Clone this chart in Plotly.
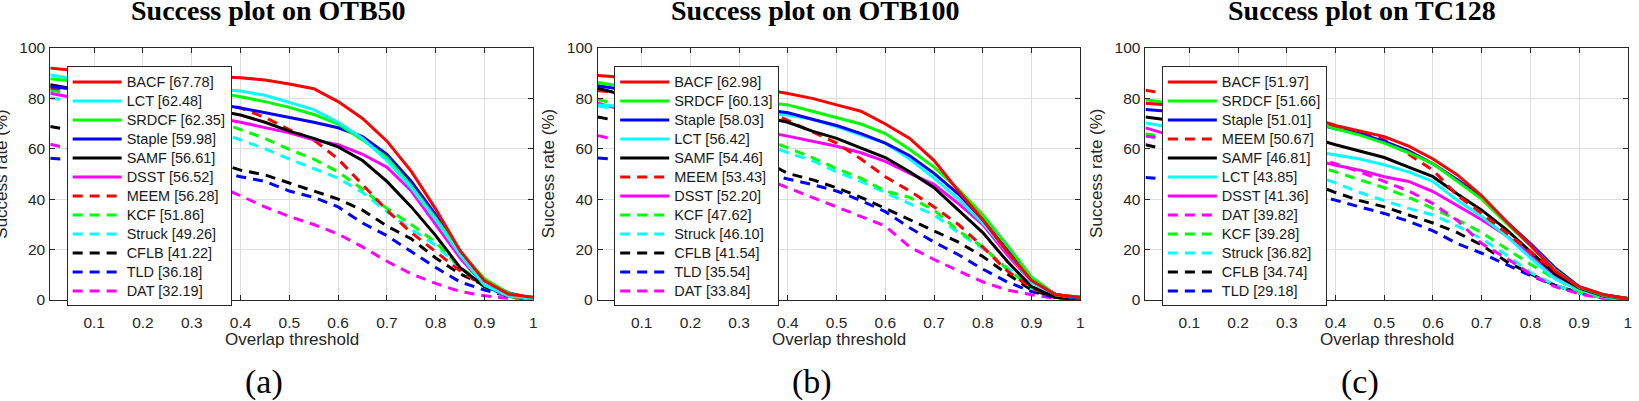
import plotly.graph_objects as go

# ---------------- data ----------------
THRESHOLDS = [0.01, 0.05, 0.10, 0.15, 0.20, 0.25, 0.30, 0.35, 0.40, 0.45, 0.50,
              0.55, 0.60, 0.65, 0.70, 0.75, 0.80, 0.85, 0.90, 0.95, 1.00]

X_TICKS = [0.1, 0.2, 0.3, 0.4, 0.5, 0.6, 0.7, 0.8, 0.9, 1.0]
X_TICK_TEXT = ["0.1", "0.2", "0.3", "0.4", "0.5", "0.6", "0.7", "0.8", "0.9", "1"]
Y_TICKS = [0, 20, 40, 60, 80, 100]
Y_TICK_TEXT = ["0", "20", "40", "60", "80", "100"]

# OTB50
OTB50_ORDER = ["BACF", "LCT", "SRDCF", "Staple", "SAMF", "DSST", "MEEM", "KCF", "Struck", "CFLB", "TLD", "DAT"]
OTB50_SCORES = [67.78, 62.48, 62.35, 59.98, 56.61, 56.52, 56.28, 51.86, 49.26, 41.22, 36.18, 32.19]
OTB50_BACF = [92.0, 91.3, 90.8, 90.3, 89.9, 89.5, 89.1, 88.8, 88.2, 87.3, 85.7, 83.8, 78.7, 72.0, 63.0, 51.0, 36.0, 19.5, 7.5, 2.2, 1.0]
OTB50_LCT = [89.3, 88.0, 87.0, 86.3, 85.6, 84.9, 84.3, 83.7, 82.9, 81.2, 78.5, 75.5, 70.5, 64.1, 55.3, 44.5, 31.8, 17.9, 5.8, 1.5, 0.5]
OTB50_SRDCF = [87.8, 87.0, 86.0, 85.2, 84.5, 83.8, 83.0, 82.3, 80.6, 78.7, 76.4, 73.6, 69.8, 63.5, 56.5, 45.1, 32.4, 19.1, 8.4, 2.5, 0.5]
OTB50_STAPLE = [84.7, 83.8, 82.5, 81.5, 80.5, 79.5, 78.6, 77.8, 76.2, 74.3, 72.6, 70.5, 68.3, 64.8, 57.8, 47.0, 33.7, 19.1, 7.7, 2.7, 0.5]
OTB50_SAMF = [85.4, 84.0, 82.0, 80.5, 79.0, 77.6, 76.3, 75.2, 73.4, 70.5, 67.0, 64.1, 60.7, 55.3, 47.0, 36.9, 25.5, 12.8, 5.2, 2.0, 0.5]
OTB50_DSST = [82.0, 80.5, 79.0, 77.5, 76.2, 74.9, 73.6, 72.3, 70.5, 68.3, 66.3, 63.5, 61.6, 57.8, 52.7, 43.2, 29.9, 16.6, 5.8, 1.4, 1.0]
OTB50_MEEM = [84.0, 83.5, 83.0, 82.3, 81.5, 80.5, 79.5, 78.3, 76.2, 72.4, 67.6, 63.5, 55.9, 45.8, 35.6, 26.7, 19.1, 11.5, 5.2, 1.4, 0.0]
OTB50_KCF = [83.2, 82.0, 80.5, 78.8, 77.0, 75.2, 73.3, 71.3, 67.6, 64.1, 59.7, 55.9, 50.8, 43.9, 36.3, 29.9, 22.9, 12.8, 6.5, 1.5, 0.0]
OTB50_STRUCK = [80.2, 79.0, 77.3, 75.5, 73.5, 71.4, 69.2, 67.0, 63.5, 60.0, 55.9, 52.1, 48.3, 42.6, 35.0, 28.0, 21.7, 12.8, 5.2, 1.2, 0.0]
OTB50_CFLB = [68.8, 67.5, 65.5, 63.5, 61.3, 59.0, 56.8, 54.5, 51.5, 49.6, 46.4, 43.2, 40.0, 35.6, 29.3, 24.2, 16.6, 10.3, 5.8, 2.0, 0.5]
OTB50_TLD = [56.2, 55.8, 55.2, 54.5, 53.7, 52.8, 51.8, 50.8, 48.9, 47.0, 43.2, 40.7, 36.9, 30.5, 25.5, 19.1, 12.8, 7.1, 3.9, 1.4, 0.0]
OTB50_DAT = [61.8, 60.0, 57.8, 55.5, 53.0, 50.5, 48.0, 45.5, 41.3, 36.9, 33.1, 29.9, 26.1, 21.0, 15.3, 10.3, 6.5, 3.3, 1.6, 0.5, 0.0]

# OTB100
OTB100_ORDER = ["BACF", "SRDCF", "Staple", "LCT", "SAMF", "MEEM", "DSST", "KCF", "Struck", "CFLB", "TLD", "DAT"]
OTB100_SCORES = [62.98, 60.13, 58.03, 56.42, 54.46, 53.43, 52.20, 47.62, 46.10, 41.54, 35.54, 33.84]
OTB100_BACF = [89.1, 88.5, 87.8, 87.2, 86.5, 85.6, 84.7, 83.6, 81.9, 80.0, 77.4, 74.9, 69.8, 64.1, 55.3, 43.2, 31.8, 19.1, 7.7, 2.0, 1.0]
OTB100_SRDCF = [86.3, 85.0, 83.8, 82.6, 81.6, 80.6, 79.6, 78.6, 77.4, 74.9, 72.4, 69.8, 66.0, 59.7, 52.7, 43.9, 33.7, 21.7, 9.0, 2.0, 1.0]
OTB100_STAPLE = [85.0, 83.8, 82.2, 80.8, 79.5, 78.2, 77.0, 75.8, 74.3, 71.7, 69.2, 66.0, 62.2, 57.2, 50.2, 42.0, 31.8, 19.8, 7.7, 2.2, 0.5]
OTB100_LCT = [77.4, 77.0, 76.5, 76.0, 75.5, 75.0, 74.5, 74.0, 73.4, 71.7, 68.8, 65.4, 62.2, 55.9, 48.3, 40.0, 30.5, 19.1, 7.1, 2.0, 0.5]
OTB100_SAMF = [84.0, 82.0, 80.0, 78.3, 76.8, 75.3, 73.9, 72.6, 70.5, 67.0, 64.1, 60.3, 56.5, 50.8, 44.5, 35.6, 26.7, 15.3, 5.2, 1.0, 0.0]
OTB100_MEEM = [83.0, 82.5, 81.8, 81.0, 80.0, 78.8, 77.5, 75.8, 71.1, 66.7, 62.2, 55.9, 48.9, 43.2, 36.9, 29.9, 21.0, 11.5, 4.6, 1.4, 0.0]
OTB100_DSST = [78.1, 76.0, 74.0, 72.3, 70.8, 69.4, 68.0, 66.7, 65.0, 62.9, 61.0, 58.4, 55.0, 50.2, 45.8, 38.2, 29.9, 17.9, 7.1, 2.0, 1.0]
OTB100_KCF = [79.4, 78.0, 76.0, 73.8, 71.6, 69.2, 66.8, 64.3, 60.3, 56.5, 52.1, 48.3, 43.2, 40.7, 35.6, 27.4, 21.0, 12.2, 5.2, 1.5, 0.0]
OTB100_STRUCK = [77.0, 75.8, 74.0, 72.0, 70.0, 67.8, 65.5, 62.3, 58.4, 55.3, 50.8, 47.0, 42.6, 38.2, 33.7, 26.7, 20.4, 12.8, 4.6, 1.5, 0.0]
OTB100_CFLB = [72.6, 71.2, 69.2, 67.0, 64.6, 62.0, 59.3, 55.3, 50.2, 47.7, 44.5, 40.7, 36.3, 31.8, 27.4, 22.9, 17.2, 10.3, 3.9, 1.0, 0.0]
OTB100_TLD = [56.3, 55.8, 55.0, 54.2, 53.3, 52.3, 51.2, 50.0, 48.0, 45.8, 43.2, 39.4, 35.0, 28.6, 22.9, 17.9, 12.2, 7.1, 3.3, 0.8, 0.0]
OTB100_DAT = [65.2, 63.5, 61.5, 59.4, 57.2, 54.6, 51.4, 48.3, 44.5, 40.7, 36.9, 33.1, 29.3, 21.0, 16.0, 11.5, 7.1, 3.9, 2.0, 0.5, 0.0]

# TC128
TC128_ORDER = ["BACF", "SRDCF", "Staple", "MEEM", "SAMF", "LCT", "DSST", "DAT", "KCF", "Struck", "CFLB", "TLD"]
TC128_SCORES = [51.97, 51.66, 51.01, 50.67, 46.81, 43.85, 41.36, 39.82, 39.28, 36.82, 34.74, 29.18]
TC128_BACF = [78.1, 77.5, 77.0, 76.2, 75.4, 74.5, 73.5, 72.3, 69.2, 67.0, 64.8, 61.0, 55.9, 49.6, 41.3, 31.2, 21.7, 11.5, 5.2, 2.0, 0.5]
TC128_SRDCF = [79.4, 78.3, 77.0, 75.8, 74.6, 73.4, 72.2, 71.0, 67.9, 65.4, 62.2, 58.4, 54.0, 47.0, 40.0, 30.5, 21.5, 12.0, 5.0, 1.8, 0.5]
TC128_STAPLE = [75.6, 75.0, 74.4, 73.7, 73.0, 72.2, 71.4, 70.5, 67.9, 66.0, 62.9, 59.1, 54.0, 47.7, 40.7, 31.2, 22.3, 12.8, 5.2, 2.0, 0.5]
TC128_MEEM = [83.2, 82.0, 80.5, 79.0, 77.5, 75.8, 74.0, 72.0, 68.8, 66.7, 63.5, 57.8, 51.5, 41.5, 34.3, 26.7, 19.1, 11.5, 5.2, 1.5, 0.0]
TC128_SAMF = [72.6, 71.5, 70.3, 69.2, 68.0, 66.8, 65.6, 64.4, 61.6, 59.1, 56.5, 52.7, 48.9, 42.0, 35.6, 28.0, 19.1, 10.3, 4.6, 1.5, 0.5]
TC128_LCT = [70.2, 68.8, 67.2, 65.6, 64.0, 62.4, 60.8, 59.2, 57.8, 55.9, 53.6, 50.8, 47.0, 39.5, 33.1, 25.5, 16.6, 8.4, 3.9, 1.2, 0.0]
TC128_DSST = [68.3, 66.0, 64.0, 62.0, 60.2, 58.6, 57.2, 55.9, 53.4, 51.5, 48.9, 47.0, 43.0, 37.5, 31.8, 25.5, 17.9, 9.6, 3.9, 2.0, 0.5]
TC128_DAT = [65.0, 64.0, 62.8, 61.6, 60.4, 59.2, 58.0, 57.2, 54.0, 50.8, 47.0, 43.2, 38.2, 31.5, 22.3, 16.6, 10.3, 5.2, 2.4, 0.5, 0.0]
TC128_KCF = [66.0, 64.5, 62.8, 61.0, 59.2, 57.4, 55.6, 53.8, 50.8, 47.7, 44.5, 40.7, 36.3, 31.8, 26.7, 20.4, 14.1, 8.4, 3.3, 1.0, 0.0]
TC128_STRUCK = [65.2, 63.2, 61.0, 58.8, 56.6, 54.4, 52.2, 50.0, 46.4, 42.6, 39.4, 36.3, 33.7, 29.3, 24.2, 17.9, 10.9, 5.8, 2.7, 0.8, 0.0]
TC128_CFLB = [61.6, 59.8, 57.6, 55.4, 53.2, 51.0, 48.8, 46.3, 42.6, 39.4, 36.9, 33.7, 30.5, 26.7, 21.7, 15.3, 10.3, 5.8, 2.7, 0.8, 0.0]
TC128_TLD = [48.6, 47.8, 47.0, 46.1, 45.2, 44.3, 43.3, 42.2, 39.4, 36.9, 34.3, 31.2, 27.4, 22.3, 18.5, 14.1, 9.6, 5.8, 2.7, 0.8, 0.0]

TITLES = ["Success plot on OTB50", "Success plot on OTB100", "Success plot on TC128"]
SUBLABELS = ["(a)", "(b)", "(c)"]

# ---------------- assemble ----------------
OTB50 = {"BACF": OTB50_BACF, "LCT": OTB50_LCT, "SRDCF": OTB50_SRDCF, "Staple": OTB50_STAPLE,
         "SAMF": OTB50_SAMF, "DSST": OTB50_DSST, "MEEM": OTB50_MEEM, "KCF": OTB50_KCF,
         "Struck": OTB50_STRUCK, "CFLB": OTB50_CFLB, "TLD": OTB50_TLD, "DAT": OTB50_DAT}
OTB100 = {"BACF": OTB100_BACF, "SRDCF": OTB100_SRDCF, "Staple": OTB100_STAPLE, "LCT": OTB100_LCT,
          "SAMF": OTB100_SAMF, "MEEM": OTB100_MEEM, "DSST": OTB100_DSST, "KCF": OTB100_KCF,
          "Struck": OTB100_STRUCK, "CFLB": OTB100_CFLB, "TLD": OTB100_TLD, "DAT": OTB100_DAT}
TC128 = {"BACF": TC128_BACF, "SRDCF": TC128_SRDCF, "Staple": TC128_STAPLE, "MEEM": TC128_MEEM,
         "SAMF": TC128_SAMF, "LCT": TC128_LCT, "DSST": TC128_DSST, "DAT": TC128_DAT,
         "KCF": TC128_KCF, "Struck": TC128_STRUCK, "CFLB": TC128_CFLB, "TLD": TC128_TLD}

STYLE = {
    "BACF": ("#ff0000", "solid"), "LCT": ("#00ffff", "solid"), "SRDCF": ("#00ff00", "solid"),
    "Staple": ("#0000ff", "solid"), "SAMF": ("#000000", "solid"), "DSST": ("#ff00ff", "solid"),
    "MEEM": ("#ff0000", "10px,7px"), "KCF": ("#00ff00", "10px,7px"), "Struck": ("#00ffff", "10px,7px"),
    "CFLB": ("#000000", "10px,7px"), "TLD": ("#0000ff", "10px,7px"), "DAT": ("#ff00ff", "10px,7px"),
}

W, H = 1639, 401
AX_GRAY = "#262626"
SANS = "Liberation Sans"
SERIF = "Liberation Serif"

# plot-area pixel geometry
PLOT_X = [(50.4, 534.6), (599.3, 1082.9), (1148.3, 1631.9)]
PLOT_TOP, PLOT_BOTTOM = 40.7, 303.7
LEGEND_LEFT = [66.8, 615.7, 1164.7]
LEGEND_TOP = 60.0
TITLE_CX = [269.0, 817.0, 1365.0]
SUB_CX = [265.0, 814.0, 1363.0]

panels = [(OTB50_ORDER, OTB50_SCORES, OTB50), (OTB100_ORDER, OTB100_SCORES, OTB100), (TC128_ORDER, TC128_SCORES, TC128)]

fig = go.Figure()
layout = dict(
    width=W, height=H, autosize=False,
    margin=dict(l=0, r=0, t=0, b=0),
    paper_bgcolor="white", plot_bgcolor="white",
    showlegend=True,
    annotations=[],
)

ydom = [1 - PLOT_BOTTOM / H, 1 - PLOT_TOP / H]

for i, (order, scores, data) in enumerate(panels):
    sfx = "" if i == 0 else str(i + 1)
    xa, ya = "x" + sfx, "y" + sfx
    leg = "legend" + sfx
    # add in reverse so the best tracker is drawn on top; legend reversed back
    for name, score in reversed(list(zip(order, scores))):
        color, dash = STYLE[name]
        fig.add_trace(go.Scatter(
            x=THRESHOLDS, y=data[name], mode="lines",
            line=dict(color=color, width=3, dash=dash),
            name='<span style="font-size:14.5px">%s [%.2f]</span>' % (name, score),
            xaxis=xa, yaxis=ya, legend=leg, hoverinfo="skip",
        ))
    x0, x1 = PLOT_X[i]
    layout["xaxis" + sfx] = dict(
        domain=[x0 / W, x1 / W], anchor=ya, range=[0.01, 1.0],
        tickvals=X_TICKS, ticktext=X_TICK_TEXT,
        ticks="inside", ticklen=5, tickcolor=AX_GRAY, tickwidth=1,
        showline=True, linecolor=AX_GRAY, linewidth=1, mirror="ticks",
        showgrid=True, gridcolor="#dedede", gridwidth=1, zeroline=False,
        tickfont=dict(family=SANS, size=15.5, color=AX_GRAY),
        ticklabelstandoff=9, ticklabeloverflow="allow",
    )
    layout["yaxis" + sfx] = dict(
        domain=ydom, anchor=xa, range=[0, 100],
        tickvals=Y_TICKS, ticktext=Y_TICK_TEXT,
        ticks="inside", ticklen=5, tickcolor=AX_GRAY, tickwidth=1,
        showline=True, linecolor=AX_GRAY, linewidth=1, mirror="ticks",
        showgrid=True, gridcolor="#dedede", gridwidth=1, zeroline=False,
        tickfont=dict(family=SANS, size=15.5, color=AX_GRAY),
        ticklabelstandoff=1, ticklabeloverflow="allow",
    )
    layout[leg] = dict(
        x=LEGEND_LEFT[i] / W, y=1 - LEGEND_TOP / H, xanchor="left", yanchor="top",
        xref="paper", yref="paper",
        bgcolor="white", bordercolor=AX_GRAY, borderwidth=1,
        font=dict(family=SANS, size=11.7, color="#1a1a1a"),
        itemwidth=49, traceorder="reversed", tracegroupgap=0,
    )
    cx = (x0 + x1) / 2
    layout["annotations"] += [
        dict(text="<b>%s</b>" % TITLES[i], x=TITLE_CX[i] / W, y=1 - 1.5 / H, xref="paper", yref="paper",
             xanchor="center", yanchor="middle", showarrow=False,
             font=dict(family=SERIF, size=28, color="black")),
        dict(text="Overlap threshold", x=cx / W, y=1 - 345 / H, xref="paper", yref="paper",
             xanchor="center", yanchor="middle", showarrow=False,
             font=dict(family=SANS, size=17, color=AX_GRAY)),
        dict(text="Success rate (%)", x=(x0 - 48.6) / W, y=1 - (PLOT_TOP + PLOT_BOTTOM) / 2 / H,
             xref="paper", yref="paper", xanchor="center", yanchor="middle", textangle=-90,
             showarrow=False, font=dict(family=SANS, size=17, color=AX_GRAY)),
        dict(text=SUBLABELS[i], x=SUB_CX[i] / W, y=1 - 389 / H, xref="paper", yref="paper",
             xanchor="center", yanchor="middle", showarrow=False,
             font=dict(family=SERIF, size=34, color="black")),
    ]

fig.update_layout(**layout)
fig.write_html("out.html", config={"displayModeBar": False},
               post_script="document.body.style.margin='0';document.body.style.overflow='hidden';")
